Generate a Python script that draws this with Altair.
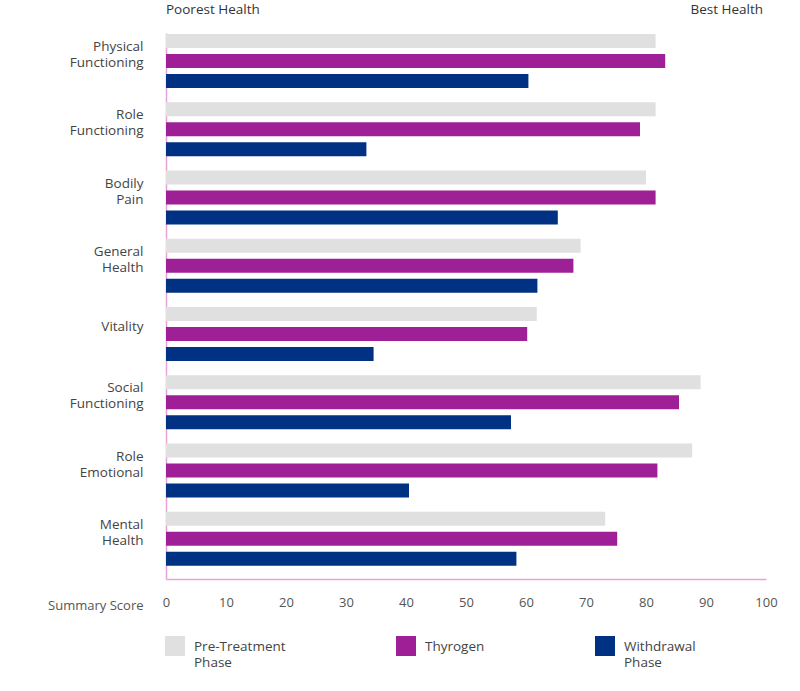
import altair as alt
import pandas as pd

# SF-36 domains (top to bottom) and treatment phases
categories = [
    "Physical Functioning", "Role Functioning", "Bodily Pain", "General Health",
    "Vitality", "Social Functioning", "Role Emotional", "Mental Health",
]
phases = ["Pre-Treatment Phase", "Thyrogen", "Withdrawal Phase"]

# Mean summary scores per domain
pre_treatment = [81.6, 81.6, 80.0, 69.1, 61.8, 89.1, 87.7, 73.2]
thyrogen = [83.2, 79.0, 81.6, 67.9, 60.2, 85.5, 81.9, 75.2]
withdrawal = [60.4, 33.4, 65.3, 61.9, 34.6, 57.5, 40.5, 58.4]

phase_colors = ["#e0e0e0", "#9e1f96", "#003183"]
x_ticks = list(range(0, 101, 10))
end_labels = ["Poorest Health", "Best Health"]
end_scores = [0, 100]

rows = []
for phase, values in zip(phases, [pre_treatment, thyrogen, withdrawal]):
    for cat, v in zip(categories, values):
        rows.append({"category": cat, "phase": phase, "score": v})
df = pd.DataFrame(rows)

axis_pink = "#e7a3d8"
text_dark = "#444444"
text_grey = "#555555"

x_enc = alt.X(
    "score:Q",
    scale=alt.Scale(domain=[0, 100], nice=False),
    axis=alt.Axis(
        values=x_ticks, grid=False, ticks=False, tickSize=0,
        domainColor=axis_pink, domainWidth=1.5,
        labelFontSize=13, labelColor=text_grey, labelPadding=17,
        labelFlush=False,
        title="Summary Score", titleFontSize=13, titleFontWeight="normal",
        titleColor=text_grey, titleX=-23, titleY=26, titleAlign="right",
        titleBaseline="middle",
    ),
)

bars = alt.Chart(df).mark_bar().encode(
    x=x_enc,
    y=alt.Y(
        "category:N", sort=categories,
        scale=alt.Scale(domain=categories, paddingInner=0, paddingOuter=0),
        axis=alt.Axis(
            title=None, grid=False, ticks=False, tickSize=0,
            domainColor=axis_pink, domainWidth=1.5,
            labelFontSize=13.5, labelColor=text_dark, labelPadding=23,
            labelAlign="right", labelBaseline="middle",
            # two-line names sit a little higher than one-word names
            labelOffset={"condition": {"test": "indexof(datum.value, ' ') >= 0", "value": -20}, "value": -13},
            labelLineHeight=16, labelLimit=200,
            labelExpr="split(datum.label, ' ')",
        ),
    ),
    yOffset=alt.YOffset(
        "phase:N", sort=phases,
        scale=alt.Scale(domain=phases, paddingInner=0.3, paddingOuter=0.356, align=0.07),
    ),
    color=alt.Color(
        "phase:N",
        scale=alt.Scale(domain=phases, range=phase_colors),
        legend=alt.Legend(
            title=None, orient="none", direction="horizontal",
            legendX=-1, legendY=604, padding=0,
            symbolType="M-1,-1.1H1V0.9H-1Z", symbolSize=400,
            symbolStrokeWidth=0, symbolOpacity=1,
            labelFontSize=13.5, labelColor=text_dark, labelOffset=9,
            labelBaseline="middle", labelLimit=200,
            columnPadding=110,
            labelExpr="length(split(datum.label, ' ')) > 1 ? split(datum.label, ' ') : [datum.label, '']",
        ),
    ),
)

ends = pd.DataFrame({"label": end_labels, "score": end_scores})

left_text = alt.Chart(ends).transform_filter(alt.datum.score == 0).mark_text(
    align="left", baseline="middle", fontSize=13.5, color="#333333"
).encode(x="score:Q", y=alt.value(-23), text="label:N")

right_text = alt.Chart(ends).transform_filter(alt.datum.score == 100).mark_text(
    align="right", baseline="middle", fontSize=13.5, color="#333333", dx=-3
).encode(x="score:Q", y=alt.value(-23), text="label:N")

chart = (
    alt.layer(bars, left_text, right_text)
    .properties(
        width=600, height=546,
        autosize=alt.AutoSizeParams(type="none"),
        padding={"left": 166, "top": 33, "right": 34, "bottom": 112},
        background="white",
    )
    .configure(font="Open Sans")
    .configure_view(strokeWidth=0)
)

chart.save("out.html", embed_options={"renderer": "svg", "actions": False})
